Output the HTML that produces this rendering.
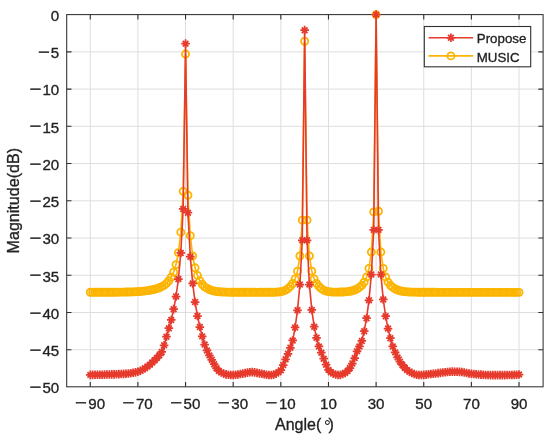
<!DOCTYPE html>
<html><head><meta charset="utf-8"><title>Spectrum</title>
<style>
html,body{margin:0;padding:0;background:#fff;}
svg{display:block;}
text{font-family:"Liberation Sans",sans-serif;fill:#222;}
</style></head><body>
<svg width="550" height="441" viewBox="0 0 550 441">
<rect width="550" height="441" fill="#fff"/>
<path d="M90.27 14.6V386.8M137.91 14.6V386.8M185.55 14.6V386.8M233.19 14.6V386.8M280.83 14.6V386.8M328.47 14.6V386.8M376.11 14.6V386.8M423.75 14.6V386.8M471.39 14.6V386.8M519.03 14.6V386.8M66.7 349.76H543.1M66.7 312.52H543.1M66.7 275.28H543.1M66.7 238.04H543.1M66.7 200.80H543.1M66.7 163.56H543.1M66.7 126.32H543.1M66.7 89.08H543.1M66.7 51.84H543.1" stroke="#dedede" stroke-width="1" fill="none"/>
<path d="M90.27 386.8v-4.8M90.27 14.6v4.8M137.91 386.8v-4.8M137.91 14.6v4.8M185.55 386.8v-4.8M185.55 14.6v4.8M233.19 386.8v-4.8M233.19 14.6v4.8M280.83 386.8v-4.8M280.83 14.6v4.8M328.47 386.8v-4.8M328.47 14.6v4.8M376.11 386.8v-4.8M376.11 14.6v4.8M423.75 386.8v-4.8M423.75 14.6v4.8M471.39 386.8v-4.8M471.39 14.6v4.8M519.03 386.8v-4.8M519.03 14.6v4.8M66.7 349.76h4.8M543.1 349.76h-4.8M66.7 312.52h4.8M543.1 312.52h-4.8M66.7 275.28h4.8M543.1 275.28h-4.8M66.7 238.04h4.8M543.1 238.04h-4.8M66.7 200.80h4.8M543.1 200.80h-4.8M66.7 163.56h4.8M543.1 163.56h-4.8M66.7 126.32h4.8M543.1 126.32h-4.8M66.7 89.08h4.8M543.1 89.08h-4.8M66.7 51.84h4.8M543.1 51.84h-4.8" stroke="#303030" stroke-width="1.1" fill="none"/>
<rect x="66.7" y="14.6" width="476.40" height="372.20" fill="none" stroke="#303030" stroke-width="1.05"/>
<polyline points="90.27,292.32 92.65,292.31 95.03,292.31 97.42,292.30 99.80,292.30 102.18,292.29 104.56,292.28 106.94,292.28 109.33,292.26 111.71,292.25 114.09,292.23 116.47,292.21 118.85,292.19 121.24,292.16 123.62,292.12 126.00,292.07 128.38,292.01 130.76,291.94 133.15,291.85 135.53,291.74 137.91,291.60 140.29,291.43 142.67,291.22 145.06,290.96 147.44,290.65 149.82,290.27 152.20,289.81 154.58,289.26 156.97,288.58 159.35,287.73 161.73,286.68 164.11,285.33 166.49,283.35 168.88,280.76 171.26,277.21 173.64,272.16 176.02,264.59 178.40,252.63 180.79,232.17 183.17,191.33 185.55,54.07 187.93,195.24 190.31,235.72 192.70,255.92 195.08,267.79 197.46,275.40 199.84,280.60 202.22,284.27 204.61,286.89 206.99,288.08 209.37,289.48 211.75,290.43 214.13,291.06 216.52,291.47 218.90,291.75 221.28,291.93 223.66,292.05 226.04,292.13 228.43,292.19 230.81,292.23 233.19,292.26 235.57,292.28 237.95,292.29 240.34,292.30 242.72,292.31 245.10,292.31 247.48,292.32 249.86,292.32 252.25,292.32 254.63,292.32 257.01,292.33 259.39,292.32 261.77,292.32 264.16,292.32 266.54,292.31 268.92,292.30 271.30,292.28 273.68,292.24 276.07,292.16 278.45,292.01 280.83,291.71 283.21,291.15 285.59,290.16 287.98,288.60 290.36,286.44 292.74,283.45 295.12,278.96 297.50,271.22 299.89,255.99 302.27,220.19 304.65,41.26 307.03,220.19 309.41,255.99 311.80,271.22 314.18,278.95 316.56,283.44 318.94,286.42 321.32,288.59 323.71,290.13 326.09,291.12 328.47,291.67 330.85,291.95 333.23,292.08 335.62,292.12 338.00,292.12 340.38,292.07 342.76,291.98 345.14,291.84 347.53,291.61 349.91,291.27 352.29,290.77 354.67,290.03 357.05,288.96 359.44,287.45 361.82,285.28 364.20,282.08 366.58,277.05 368.96,268.45 371.35,252.05 373.73,211.97 376.11,14.60 378.49,211.23 380.87,252.05 383.26,268.45 385.64,277.05 388.02,282.08 390.40,285.28 392.78,287.45 395.17,288.96 397.55,290.03 399.93,290.77 402.31,291.28 404.69,291.62 407.08,291.85 409.46,292.00 411.84,292.10 414.22,292.17 416.60,292.22 418.99,292.25 421.37,292.27 423.75,292.29 426.13,292.30 428.51,292.31 430.90,292.32 433.28,292.32 435.66,292.32 438.04,292.33 440.42,292.33 442.81,292.33 445.19,292.33 447.57,292.33 449.95,292.33 452.33,292.33 454.72,292.33 457.10,292.33 459.48,292.33 461.86,292.33 464.24,292.33 466.63,292.33 469.01,292.34 471.39,292.34 473.77,292.34 476.15,292.34 478.54,292.34 480.92,292.34 483.30,292.34 485.68,292.34 488.06,292.34 490.45,292.34 492.83,292.34 495.21,292.34 497.59,292.34 499.97,292.34 502.36,292.34 504.74,292.34 507.12,292.34 509.50,292.34 511.88,292.34 514.27,292.34 516.65,292.34 519.03,292.34" fill="none" stroke="#fbb400" stroke-width="1.6" stroke-linejoin="round"/>
<g fill="none" stroke="#fbb400" stroke-width="1.8"><circle cx="90.27" cy="292.32" r="3.55"/><circle cx="92.65" cy="292.31" r="3.55"/><circle cx="95.03" cy="292.31" r="3.55"/><circle cx="97.42" cy="292.30" r="3.55"/><circle cx="99.80" cy="292.30" r="3.55"/><circle cx="102.18" cy="292.29" r="3.55"/><circle cx="104.56" cy="292.28" r="3.55"/><circle cx="106.94" cy="292.28" r="3.55"/><circle cx="109.33" cy="292.26" r="3.55"/><circle cx="111.71" cy="292.25" r="3.55"/><circle cx="114.09" cy="292.23" r="3.55"/><circle cx="116.47" cy="292.21" r="3.55"/><circle cx="118.85" cy="292.19" r="3.55"/><circle cx="121.24" cy="292.16" r="3.55"/><circle cx="123.62" cy="292.12" r="3.55"/><circle cx="126.00" cy="292.07" r="3.55"/><circle cx="128.38" cy="292.01" r="3.55"/><circle cx="130.76" cy="291.94" r="3.55"/><circle cx="133.15" cy="291.85" r="3.55"/><circle cx="135.53" cy="291.74" r="3.55"/><circle cx="137.91" cy="291.60" r="3.55"/><circle cx="140.29" cy="291.43" r="3.55"/><circle cx="142.67" cy="291.22" r="3.55"/><circle cx="145.06" cy="290.96" r="3.55"/><circle cx="147.44" cy="290.65" r="3.55"/><circle cx="149.82" cy="290.27" r="3.55"/><circle cx="152.20" cy="289.81" r="3.55"/><circle cx="154.58" cy="289.26" r="3.55"/><circle cx="156.97" cy="288.58" r="3.55"/><circle cx="159.35" cy="287.73" r="3.55"/><circle cx="161.73" cy="286.68" r="3.55"/><circle cx="164.11" cy="285.33" r="3.55"/><circle cx="166.49" cy="283.35" r="3.55"/><circle cx="168.88" cy="280.76" r="3.55"/><circle cx="171.26" cy="277.21" r="3.55"/><circle cx="173.64" cy="272.16" r="3.55"/><circle cx="176.02" cy="264.59" r="3.55"/><circle cx="178.40" cy="252.63" r="3.55"/><circle cx="180.79" cy="232.17" r="3.55"/><circle cx="183.17" cy="191.33" r="3.55"/><circle cx="185.55" cy="54.07" r="3.55"/><circle cx="187.93" cy="195.24" r="3.55"/><circle cx="190.31" cy="235.72" r="3.55"/><circle cx="192.70" cy="255.92" r="3.55"/><circle cx="195.08" cy="267.79" r="3.55"/><circle cx="197.46" cy="275.40" r="3.55"/><circle cx="199.84" cy="280.60" r="3.55"/><circle cx="202.22" cy="284.27" r="3.55"/><circle cx="204.61" cy="286.89" r="3.55"/><circle cx="206.99" cy="288.08" r="3.55"/><circle cx="209.37" cy="289.48" r="3.55"/><circle cx="211.75" cy="290.43" r="3.55"/><circle cx="214.13" cy="291.06" r="3.55"/><circle cx="216.52" cy="291.47" r="3.55"/><circle cx="218.90" cy="291.75" r="3.55"/><circle cx="221.28" cy="291.93" r="3.55"/><circle cx="223.66" cy="292.05" r="3.55"/><circle cx="226.04" cy="292.13" r="3.55"/><circle cx="228.43" cy="292.19" r="3.55"/><circle cx="230.81" cy="292.23" r="3.55"/><circle cx="233.19" cy="292.26" r="3.55"/><circle cx="235.57" cy="292.28" r="3.55"/><circle cx="237.95" cy="292.29" r="3.55"/><circle cx="240.34" cy="292.30" r="3.55"/><circle cx="242.72" cy="292.31" r="3.55"/><circle cx="245.10" cy="292.31" r="3.55"/><circle cx="247.48" cy="292.32" r="3.55"/><circle cx="249.86" cy="292.32" r="3.55"/><circle cx="252.25" cy="292.32" r="3.55"/><circle cx="254.63" cy="292.32" r="3.55"/><circle cx="257.01" cy="292.33" r="3.55"/><circle cx="259.39" cy="292.32" r="3.55"/><circle cx="261.77" cy="292.32" r="3.55"/><circle cx="264.16" cy="292.32" r="3.55"/><circle cx="266.54" cy="292.31" r="3.55"/><circle cx="268.92" cy="292.30" r="3.55"/><circle cx="271.30" cy="292.28" r="3.55"/><circle cx="273.68" cy="292.24" r="3.55"/><circle cx="276.07" cy="292.16" r="3.55"/><circle cx="278.45" cy="292.01" r="3.55"/><circle cx="280.83" cy="291.71" r="3.55"/><circle cx="283.21" cy="291.15" r="3.55"/><circle cx="285.59" cy="290.16" r="3.55"/><circle cx="287.98" cy="288.60" r="3.55"/><circle cx="290.36" cy="286.44" r="3.55"/><circle cx="292.74" cy="283.45" r="3.55"/><circle cx="295.12" cy="278.96" r="3.55"/><circle cx="297.50" cy="271.22" r="3.55"/><circle cx="299.89" cy="255.99" r="3.55"/><circle cx="302.27" cy="220.19" r="3.55"/><circle cx="304.65" cy="41.26" r="3.55"/><circle cx="307.03" cy="220.19" r="3.55"/><circle cx="309.41" cy="255.99" r="3.55"/><circle cx="311.80" cy="271.22" r="3.55"/><circle cx="314.18" cy="278.95" r="3.55"/><circle cx="316.56" cy="283.44" r="3.55"/><circle cx="318.94" cy="286.42" r="3.55"/><circle cx="321.32" cy="288.59" r="3.55"/><circle cx="323.71" cy="290.13" r="3.55"/><circle cx="326.09" cy="291.12" r="3.55"/><circle cx="328.47" cy="291.67" r="3.55"/><circle cx="330.85" cy="291.95" r="3.55"/><circle cx="333.23" cy="292.08" r="3.55"/><circle cx="335.62" cy="292.12" r="3.55"/><circle cx="338.00" cy="292.12" r="3.55"/><circle cx="340.38" cy="292.07" r="3.55"/><circle cx="342.76" cy="291.98" r="3.55"/><circle cx="345.14" cy="291.84" r="3.55"/><circle cx="347.53" cy="291.61" r="3.55"/><circle cx="349.91" cy="291.27" r="3.55"/><circle cx="352.29" cy="290.77" r="3.55"/><circle cx="354.67" cy="290.03" r="3.55"/><circle cx="357.05" cy="288.96" r="3.55"/><circle cx="359.44" cy="287.45" r="3.55"/><circle cx="361.82" cy="285.28" r="3.55"/><circle cx="364.20" cy="282.08" r="3.55"/><circle cx="366.58" cy="277.05" r="3.55"/><circle cx="368.96" cy="268.45" r="3.55"/><circle cx="371.35" cy="252.05" r="3.55"/><circle cx="373.73" cy="211.97" r="3.55"/><circle cx="376.11" cy="14.60" r="3.55"/><circle cx="378.49" cy="211.23" r="3.55"/><circle cx="380.87" cy="252.05" r="3.55"/><circle cx="383.26" cy="268.45" r="3.55"/><circle cx="385.64" cy="277.05" r="3.55"/><circle cx="388.02" cy="282.08" r="3.55"/><circle cx="390.40" cy="285.28" r="3.55"/><circle cx="392.78" cy="287.45" r="3.55"/><circle cx="395.17" cy="288.96" r="3.55"/><circle cx="397.55" cy="290.03" r="3.55"/><circle cx="399.93" cy="290.77" r="3.55"/><circle cx="402.31" cy="291.28" r="3.55"/><circle cx="404.69" cy="291.62" r="3.55"/><circle cx="407.08" cy="291.85" r="3.55"/><circle cx="409.46" cy="292.00" r="3.55"/><circle cx="411.84" cy="292.10" r="3.55"/><circle cx="414.22" cy="292.17" r="3.55"/><circle cx="416.60" cy="292.22" r="3.55"/><circle cx="418.99" cy="292.25" r="3.55"/><circle cx="421.37" cy="292.27" r="3.55"/><circle cx="423.75" cy="292.29" r="3.55"/><circle cx="426.13" cy="292.30" r="3.55"/><circle cx="428.51" cy="292.31" r="3.55"/><circle cx="430.90" cy="292.32" r="3.55"/><circle cx="433.28" cy="292.32" r="3.55"/><circle cx="435.66" cy="292.32" r="3.55"/><circle cx="438.04" cy="292.33" r="3.55"/><circle cx="440.42" cy="292.33" r="3.55"/><circle cx="442.81" cy="292.33" r="3.55"/><circle cx="445.19" cy="292.33" r="3.55"/><circle cx="447.57" cy="292.33" r="3.55"/><circle cx="449.95" cy="292.33" r="3.55"/><circle cx="452.33" cy="292.33" r="3.55"/><circle cx="454.72" cy="292.33" r="3.55"/><circle cx="457.10" cy="292.33" r="3.55"/><circle cx="459.48" cy="292.33" r="3.55"/><circle cx="461.86" cy="292.33" r="3.55"/><circle cx="464.24" cy="292.33" r="3.55"/><circle cx="466.63" cy="292.33" r="3.55"/><circle cx="469.01" cy="292.34" r="3.55"/><circle cx="471.39" cy="292.34" r="3.55"/><circle cx="473.77" cy="292.34" r="3.55"/><circle cx="476.15" cy="292.34" r="3.55"/><circle cx="478.54" cy="292.34" r="3.55"/><circle cx="480.92" cy="292.34" r="3.55"/><circle cx="483.30" cy="292.34" r="3.55"/><circle cx="485.68" cy="292.34" r="3.55"/><circle cx="488.06" cy="292.34" r="3.55"/><circle cx="490.45" cy="292.34" r="3.55"/><circle cx="492.83" cy="292.34" r="3.55"/><circle cx="495.21" cy="292.34" r="3.55"/><circle cx="497.59" cy="292.34" r="3.55"/><circle cx="499.97" cy="292.34" r="3.55"/><circle cx="502.36" cy="292.34" r="3.55"/><circle cx="504.74" cy="292.34" r="3.55"/><circle cx="507.12" cy="292.34" r="3.55"/><circle cx="509.50" cy="292.34" r="3.55"/><circle cx="511.88" cy="292.34" r="3.55"/><circle cx="514.27" cy="292.34" r="3.55"/><circle cx="516.65" cy="292.34" r="3.55"/><circle cx="519.03" cy="292.34" r="3.55"/></g>
<polyline points="90.27,374.86 92.65,374.85 95.03,374.82 97.42,374.78 99.80,374.74 102.18,374.68 104.56,374.62 106.94,374.56 109.33,374.49 111.71,374.41 114.09,374.34 116.47,374.26 118.85,374.16 121.24,374.04 123.62,373.91 126.00,373.74 128.38,373.51 130.76,373.18 133.15,372.80 135.53,372.34 137.91,371.73 140.29,370.83 142.67,369.64 145.06,368.25 147.44,366.56 149.82,364.66 152.20,362.59 154.58,360.29 156.97,357.87 159.35,355.40 161.73,351.99 164.11,345.34 166.49,336.73 168.88,328.16 171.26,319.97 173.64,309.17 176.02,296.51 178.40,279.00 180.79,252.94 183.17,208.99 185.55,43.65 187.93,212.72 190.31,256.66 192.70,283.47 195.08,302.09 197.46,316.02 199.84,327.04 202.22,336.35 204.61,344.55 206.99,350.45 209.37,355.40 211.75,359.81 214.13,364.24 216.52,368.28 218.90,370.99 221.28,372.52 223.66,373.65 226.04,374.34 228.43,374.77 230.81,375.04 233.19,375.05 235.57,374.82 237.95,374.44 240.34,374.01 242.72,373.59 245.10,373.12 247.48,372.58 249.86,372.18 252.25,372.13 254.63,372.42 257.01,372.89 259.39,373.39 261.77,373.79 264.16,374.26 266.54,374.70 268.92,375.01 271.30,375.06 273.68,374.61 276.07,373.62 278.45,372.16 280.83,370.24 283.21,365.01 285.59,359.27 287.98,353.75 290.36,347.79 292.74,340.45 295.12,327.42 297.50,310.29 299.89,284.59 302.27,240.27 304.65,30.17 307.03,240.27 309.41,284.59 311.80,309.91 314.18,326.67 316.56,337.84 318.94,346.48 321.32,352.74 323.71,358.70 326.09,364.66 328.47,369.87 330.85,372.21 333.23,373.59 335.62,374.53 338.00,375.07 340.38,374.84 342.76,374.07 345.14,372.99 347.53,371.11 349.91,368.04 352.29,363.55 354.67,358.05 357.05,351.25 359.44,346.41 361.82,340.97 364.20,331.21 366.58,318.18 368.96,300.31 371.35,274.54 373.73,229.85 376.11,14.60 378.49,229.85 380.87,274.54 383.26,299.49 385.64,316.24 388.02,328.53 390.40,338.22 392.78,346.48 395.17,352.37 397.55,357.40 399.93,361.60 402.31,364.96 404.69,367.78 407.08,370.10 409.46,371.73 411.84,372.91 414.22,373.95 416.60,374.72 418.99,375.07 421.37,375.04 423.75,374.87 426.13,374.61 428.51,374.31 430.90,374.01 433.28,373.74 435.66,373.46 438.04,373.16 440.42,372.86 442.81,372.57 445.19,372.28 447.57,371.95 449.95,371.70 452.33,371.66 454.72,371.70 457.10,371.76 459.48,371.85 461.86,372.03 464.24,372.44 466.63,372.96 469.01,373.47 471.39,373.82 473.77,374.04 476.15,374.25 478.54,374.45 480.92,374.63 483.30,374.80 485.68,374.93 488.06,375.04 490.45,375.12 492.83,375.15 495.21,375.16 497.59,375.15 499.97,375.15 502.36,375.13 504.74,375.10 507.12,375.06 509.50,375.00 511.88,374.93 514.27,374.83 516.65,374.71 519.03,374.56" fill="none" stroke="#e63a2c" stroke-width="1.6" stroke-linejoin="round"/>
<path fill="none" stroke="#e63a2c" stroke-width="1.75" d="M85.97 374.86H94.57M90.27 370.56V379.16M87.42 372.01L93.12 377.71M87.42 377.71L93.12 372.01M88.35 374.85H96.95M92.65 370.55V379.15M89.80 372.00L95.50 377.70M89.80 377.70L95.50 372.00M90.73 374.82H99.33M95.03 370.52V379.12M92.18 371.97L97.88 377.67M92.18 377.67L97.88 371.97M93.12 374.78H101.72M97.42 370.48V379.08M94.57 371.93L100.27 377.63M94.57 377.63L100.27 371.93M95.50 374.74H104.10M99.80 370.44V379.04M96.95 371.89L102.65 377.59M96.95 377.59L102.65 371.89M97.88 374.68H106.48M102.18 370.38V378.98M99.33 371.83L105.03 377.53M99.33 377.53L105.03 371.83M100.26 374.62H108.86M104.56 370.32V378.92M101.71 371.77L107.41 377.47M101.71 377.47L107.41 371.77M102.64 374.56H111.24M106.94 370.26V378.86M104.09 371.71L109.79 377.41M104.09 377.41L109.79 371.71M105.03 374.49H113.63M109.33 370.19V378.79M106.48 371.64L112.18 377.34M106.48 377.34L112.18 371.64M107.41 374.41H116.01M111.71 370.11V378.71M108.86 371.56L114.56 377.26M108.86 377.26L114.56 371.56M109.79 374.34H118.39M114.09 370.04V378.64M111.24 371.49L116.94 377.19M111.24 377.19L116.94 371.49M112.17 374.26H120.77M116.47 369.96V378.56M113.62 371.41L119.32 377.11M113.62 377.11L119.32 371.41M114.55 374.16H123.15M118.85 369.86V378.46M116.00 371.31L121.70 377.01M116.00 377.01L121.70 371.31M116.94 374.04H125.54M121.24 369.74V378.34M118.39 371.19L124.09 376.89M118.39 376.89L124.09 371.19M119.32 373.91H127.92M123.62 369.61V378.21M120.77 371.06L126.47 376.76M120.77 376.76L126.47 371.06M121.70 373.74H130.30M126.00 369.44V378.04M123.15 370.89L128.85 376.59M123.15 376.59L128.85 370.89M124.08 373.51H132.68M128.38 369.21V377.81M125.53 370.66L131.23 376.36M125.53 376.36L131.23 370.66M126.46 373.18H135.06M130.76 368.88V377.48M127.91 370.33L133.61 376.03M127.91 376.03L133.61 370.33M128.85 372.80H137.45M133.15 368.50V377.10M130.30 369.95L136.00 375.65M130.30 375.65L136.00 369.95M131.23 372.34H139.83M135.53 368.04V376.64M132.68 369.49L138.38 375.19M132.68 375.19L138.38 369.49M133.61 371.73H142.21M137.91 367.43V376.03M135.06 368.88L140.76 374.58M135.06 374.58L140.76 368.88M135.99 370.83H144.59M140.29 366.53V375.13M137.44 367.98L143.14 373.68M137.44 373.68L143.14 367.98M138.37 369.64H146.97M142.67 365.34V373.94M139.82 366.79L145.52 372.49M139.82 372.49L145.52 366.79M140.76 368.25H149.36M145.06 363.95V372.55M142.21 365.40L147.91 371.10M142.21 371.10L147.91 365.40M143.14 366.56H151.74M147.44 362.26V370.86M144.59 363.71L150.29 369.41M144.59 369.41L150.29 363.71M145.52 364.66H154.12M149.82 360.36V368.96M146.97 361.81L152.67 367.51M146.97 367.51L152.67 361.81M147.90 362.59H156.50M152.20 358.29V366.89M149.35 359.74L155.05 365.44M149.35 365.44L155.05 359.74M150.28 360.29H158.88M154.58 355.99V364.59M151.73 357.44L157.43 363.14M151.73 363.14L157.43 357.44M152.67 357.87H161.27M156.97 353.57V362.17M154.12 355.02L159.82 360.72M154.12 360.72L159.82 355.02M155.05 355.40H163.65M159.35 351.10V359.70M156.50 352.55L162.20 358.25M156.50 358.25L162.20 352.55M157.43 351.99H166.03M161.73 347.69V356.29M158.88 349.14L164.58 354.84M158.88 354.84L164.58 349.14M159.81 345.34H168.41M164.11 341.04V349.64M161.26 342.49L166.96 348.19M161.26 348.19L166.96 342.49M162.19 336.73H170.79M166.49 332.43V341.03M163.64 333.88L169.34 339.58M163.64 339.58L169.34 333.88M164.58 328.16H173.18M168.88 323.86V332.46M166.03 325.31L171.73 331.01M166.03 331.01L171.73 325.31M166.96 319.97H175.56M171.26 315.67V324.27M168.41 317.12L174.11 322.82M168.41 322.82L174.11 317.12M169.34 309.17H177.94M173.64 304.87V313.47M170.79 306.32L176.49 312.02M170.79 312.02L176.49 306.32M171.72 296.51H180.32M176.02 292.21V300.81M173.17 293.66L178.87 299.36M173.17 299.36L178.87 293.66M174.10 279.00H182.70M178.40 274.70V283.30M175.55 276.15L181.25 281.85M175.55 281.85L181.25 276.15M176.49 252.94H185.09M180.79 248.64V257.24M177.94 250.09L183.64 255.79M177.94 255.79L183.64 250.09M178.87 208.99H187.47M183.17 204.69V213.29M180.32 206.14L186.02 211.84M180.32 211.84L186.02 206.14M181.25 43.65H189.85M185.55 39.35V47.95M182.70 40.80L188.40 46.50M182.70 46.50L188.40 40.80M183.63 212.72H192.23M187.93 208.42V217.02M185.08 209.87L190.78 215.57M185.08 215.57L190.78 209.87M186.01 256.66H194.61M190.31 252.36V260.96M187.46 253.81L193.16 259.51M187.46 259.51L193.16 253.81M188.40 283.47H197.00M192.70 279.17V287.77M189.85 280.62L195.55 286.32M189.85 286.32L195.55 280.62M190.78 302.09H199.38M195.08 297.79V306.39M192.23 299.24L197.93 304.94M192.23 304.94L197.93 299.24M193.16 316.02H201.76M197.46 311.72V320.32M194.61 313.17L200.31 318.87M194.61 318.87L200.31 313.17M195.54 327.04H204.14M199.84 322.74V331.34M196.99 324.19L202.69 329.89M196.99 329.89L202.69 324.19M197.92 336.35H206.52M202.22 332.05V340.65M199.37 333.50L205.07 339.20M199.37 339.20L205.07 333.50M200.31 344.55H208.91M204.61 340.25V348.85M201.76 341.70L207.46 347.40M201.76 347.40L207.46 341.70M202.69 350.45H211.29M206.99 346.15V354.75M204.14 347.60L209.84 353.30M204.14 353.30L209.84 347.60M205.07 355.40H213.67M209.37 351.10V359.70M206.52 352.55L212.22 358.25M206.52 358.25L212.22 352.55M207.45 359.81H216.05M211.75 355.51V364.11M208.90 356.96L214.60 362.66M208.90 362.66L214.60 356.96M209.83 364.24H218.43M214.13 359.94V368.54M211.28 361.39L216.98 367.09M211.28 367.09L216.98 361.39M212.22 368.28H220.82M216.52 363.98V372.58M213.67 365.43L219.37 371.13M213.67 371.13L219.37 365.43M214.60 370.99H223.20M218.90 366.69V375.29M216.05 368.14L221.75 373.84M216.05 373.84L221.75 368.14M216.98 372.52H225.58M221.28 368.22V376.82M218.43 369.67L224.13 375.37M218.43 375.37L224.13 369.67M219.36 373.65H227.96M223.66 369.35V377.95M220.81 370.80L226.51 376.50M220.81 376.50L226.51 370.80M221.74 374.34H230.34M226.04 370.04V378.64M223.19 371.49L228.89 377.19M223.19 377.19L228.89 371.49M224.13 374.77H232.73M228.43 370.47V379.07M225.58 371.92L231.28 377.62M225.58 377.62L231.28 371.92M226.51 375.04H235.11M230.81 370.74V379.34M227.96 372.19L233.66 377.89M227.96 377.89L233.66 372.19M228.89 375.05H237.49M233.19 370.75V379.35M230.34 372.20L236.04 377.90M230.34 377.90L236.04 372.20M231.27 374.82H239.87M235.57 370.52V379.12M232.72 371.97L238.42 377.67M232.72 377.67L238.42 371.97M233.65 374.44H242.25M237.95 370.14V378.74M235.10 371.59L240.80 377.29M235.10 377.29L240.80 371.59M236.04 374.01H244.64M240.34 369.71V378.31M237.49 371.16L243.19 376.86M237.49 376.86L243.19 371.16M238.42 373.59H247.02M242.72 369.29V377.89M239.87 370.74L245.57 376.44M239.87 376.44L245.57 370.74M240.80 373.12H249.40M245.10 368.82V377.42M242.25 370.27L247.95 375.97M242.25 375.97L247.95 370.27M243.18 372.58H251.78M247.48 368.28V376.88M244.63 369.73L250.33 375.43M244.63 375.43L250.33 369.73M245.56 372.18H254.16M249.86 367.88V376.48M247.01 369.33L252.71 375.03M247.01 375.03L252.71 369.33M247.95 372.13H256.55M252.25 367.83V376.43M249.40 369.28L255.10 374.98M249.40 374.98L255.10 369.28M250.33 372.42H258.93M254.63 368.12V376.72M251.78 369.57L257.48 375.27M251.78 375.27L257.48 369.57M252.71 372.89H261.31M257.01 368.59V377.19M254.16 370.04L259.86 375.74M254.16 375.74L259.86 370.04M255.09 373.39H263.69M259.39 369.09V377.69M256.54 370.54L262.24 376.24M256.54 376.24L262.24 370.54M257.47 373.79H266.07M261.77 369.49V378.09M258.92 370.94L264.62 376.64M258.92 376.64L264.62 370.94M259.86 374.26H268.46M264.16 369.96V378.56M261.31 371.41L267.01 377.11M261.31 377.11L267.01 371.41M262.24 374.70H270.84M266.54 370.40V379.00M263.69 371.85L269.39 377.55M263.69 377.55L269.39 371.85M264.62 375.01H273.22M268.92 370.71V379.31M266.07 372.16L271.77 377.86M266.07 377.86L271.77 372.16M267.00 375.06H275.60M271.30 370.76V379.36M268.45 372.21L274.15 377.91M268.45 377.91L274.15 372.21M269.38 374.61H277.98M273.68 370.31V378.91M270.83 371.76L276.53 377.46M270.83 377.46L276.53 371.76M271.77 373.62H280.37M276.07 369.32V377.92M273.22 370.77L278.92 376.47M273.22 376.47L278.92 370.77M274.15 372.16H282.75M278.45 367.86V376.46M275.60 369.31L281.30 375.01M275.60 375.01L281.30 369.31M276.53 370.24H285.13M280.83 365.94V374.54M277.98 367.39L283.68 373.09M277.98 373.09L283.68 367.39M278.91 365.01H287.51M283.21 360.71V369.31M280.36 362.16L286.06 367.86M280.36 367.86L286.06 362.16M281.29 359.27H289.89M285.59 354.97V363.57M282.74 356.42L288.44 362.12M282.74 362.12L288.44 356.42M283.68 353.75H292.28M287.98 349.45V358.05M285.13 350.90L290.83 356.60M285.13 356.60L290.83 350.90M286.06 347.79H294.66M290.36 343.49V352.09M287.51 344.94L293.21 350.64M287.51 350.64L293.21 344.94M288.44 340.45H297.04M292.74 336.15V344.75M289.89 337.60L295.59 343.30M289.89 343.30L295.59 337.60M290.82 327.42H299.42M295.12 323.12V331.72M292.27 324.57L297.97 330.27M292.27 330.27L297.97 324.57M293.20 310.29H301.80M297.50 305.99V314.59M294.65 307.44L300.35 313.14M294.65 313.14L300.35 307.44M295.59 284.59H304.19M299.89 280.29V288.89M297.04 281.74L302.74 287.44M297.04 287.44L302.74 281.74M297.97 240.27H306.57M302.27 235.97V244.57M299.42 237.42L305.12 243.12M299.42 243.12L305.12 237.42M300.35 30.17H308.95M304.65 25.87V34.47M301.80 27.32L307.50 33.02M301.80 33.02L307.50 27.32M302.73 240.27H311.33M307.03 235.97V244.57M304.18 237.42L309.88 243.12M304.18 243.12L309.88 237.42M305.11 284.59H313.71M309.41 280.29V288.89M306.56 281.74L312.26 287.44M306.56 287.44L312.26 281.74M307.50 309.91H316.10M311.80 305.61V314.21M308.95 307.06L314.65 312.76M308.95 312.76L314.65 307.06M309.88 326.67H318.48M314.18 322.37V330.97M311.33 323.82L317.03 329.52M311.33 329.52L317.03 323.82M312.26 337.84H320.86M316.56 333.54V342.14M313.71 334.99L319.41 340.69M313.71 340.69L319.41 334.99M314.64 346.48H323.24M318.94 342.18V350.78M316.09 343.63L321.79 349.33M316.09 349.33L321.79 343.63M317.02 352.74H325.62M321.32 348.44V357.04M318.47 349.89L324.17 355.59M318.47 355.59L324.17 349.89M319.41 358.70H328.01M323.71 354.40V363.00M320.86 355.85L326.56 361.55M320.86 361.55L326.56 355.85M321.79 364.66H330.39M326.09 360.36V368.96M323.24 361.81L328.94 367.51M323.24 367.51L328.94 361.81M324.17 369.87H332.77M328.47 365.57V374.17M325.62 367.02L331.32 372.72M325.62 372.72L331.32 367.02M326.55 372.21H335.15M330.85 367.91V376.51M328.00 369.36L333.70 375.06M328.00 375.06L333.70 369.36M328.93 373.59H337.53M333.23 369.29V377.89M330.38 370.74L336.08 376.44M330.38 376.44L336.08 370.74M331.32 374.53H339.92M335.62 370.23V378.83M332.77 371.68L338.47 377.38M332.77 377.38L338.47 371.68M333.70 375.07H342.30M338.00 370.77V379.37M335.15 372.22L340.85 377.92M335.15 377.92L340.85 372.22M336.08 374.84H344.68M340.38 370.54V379.14M337.53 371.99L343.23 377.69M337.53 377.69L343.23 371.99M338.46 374.07H347.06M342.76 369.77V378.37M339.91 371.22L345.61 376.92M339.91 376.92L345.61 371.22M340.84 372.99H349.44M345.14 368.69V377.29M342.29 370.14L347.99 375.84M342.29 375.84L347.99 370.14M343.23 371.11H351.83M347.53 366.81V375.41M344.68 368.26L350.38 373.96M344.68 373.96L350.38 368.26M345.61 368.04H354.21M349.91 363.74V372.34M347.06 365.19L352.76 370.89M347.06 370.89L352.76 365.19M347.99 363.55H356.59M352.29 359.25V367.85M349.44 360.70L355.14 366.40M349.44 366.40L355.14 360.70M350.37 358.05H358.97M354.67 353.75V362.35M351.82 355.20L357.52 360.90M351.82 360.90L357.52 355.20M352.75 351.25H361.35M357.05 346.95V355.55M354.20 348.40L359.90 354.10M354.20 354.10L359.90 348.40M355.14 346.41H363.74M359.44 342.11V350.71M356.59 343.56L362.29 349.26M356.59 349.26L362.29 343.56M357.52 340.97H366.12M361.82 336.67V345.27M358.97 338.12L364.67 343.82M358.97 343.82L364.67 338.12M359.90 331.21H368.50M364.20 326.91V335.51M361.35 328.36L367.05 334.06M361.35 334.06L367.05 328.36M362.28 318.18H370.88M366.58 313.88V322.48M363.73 315.33L369.43 321.03M363.73 321.03L369.43 315.33M364.66 300.31H373.26M368.96 296.01V304.61M366.11 297.46L371.81 303.16M366.11 303.16L371.81 297.46M367.05 274.54H375.65M371.35 270.24V278.84M368.50 271.69L374.20 277.39M368.50 277.39L374.20 271.69M369.43 229.85H378.03M373.73 225.55V234.15M370.88 227.00L376.58 232.70M370.88 232.70L376.58 227.00M371.81 14.60H380.41M376.11 10.30V18.90M373.26 11.75L378.96 17.45M373.26 17.45L378.96 11.75M374.19 229.85H382.79M378.49 225.55V234.15M375.64 227.00L381.34 232.70M375.64 232.70L381.34 227.00M376.57 274.54H385.17M380.87 270.24V278.84M378.02 271.69L383.72 277.39M378.02 277.39L383.72 271.69M378.96 299.49H387.56M383.26 295.19V303.79M380.41 296.64L386.11 302.34M380.41 302.34L386.11 296.64M381.34 316.24H389.94M385.64 311.94V320.54M382.79 313.39L388.49 319.09M382.79 319.09L388.49 313.39M383.72 328.53H392.32M388.02 324.23V332.83M385.17 325.68L390.87 331.38M385.17 331.38L390.87 325.68M386.10 338.22H394.70M390.40 333.92V342.52M387.55 335.37L393.25 341.07M387.55 341.07L393.25 335.37M388.48 346.48H397.08M392.78 342.18V350.78M389.93 343.63L395.63 349.33M389.93 349.33L395.63 343.63M390.87 352.37H399.47M395.17 348.07V356.67M392.32 349.52L398.02 355.22M392.32 355.22L398.02 349.52M393.25 357.40H401.85M397.55 353.10V361.70M394.70 354.55L400.40 360.25M394.70 360.25L400.40 354.55M395.63 361.60H404.23M399.93 357.30V365.90M397.08 358.75L402.78 364.45M397.08 364.45L402.78 358.75M398.01 364.96H406.61M402.31 360.66V369.26M399.46 362.11L405.16 367.81M399.46 367.81L405.16 362.11M400.39 367.78H408.99M404.69 363.48V372.08M401.84 364.93L407.54 370.63M401.84 370.63L407.54 364.93M402.78 370.10H411.38M407.08 365.80V374.40M404.23 367.25L409.93 372.95M404.23 372.95L409.93 367.25M405.16 371.73H413.76M409.46 367.43V376.03M406.61 368.88L412.31 374.58M406.61 374.58L412.31 368.88M407.54 372.91H416.14M411.84 368.61V377.21M408.99 370.06L414.69 375.76M408.99 375.76L414.69 370.06M409.92 373.95H418.52M414.22 369.65V378.25M411.37 371.10L417.07 376.80M411.37 376.80L417.07 371.10M412.30 374.72H420.90M416.60 370.42V379.02M413.75 371.87L419.45 377.57M413.75 377.57L419.45 371.87M414.69 375.07H423.29M418.99 370.77V379.37M416.14 372.22L421.84 377.92M416.14 377.92L421.84 372.22M417.07 375.04H425.67M421.37 370.74V379.34M418.52 372.19L424.22 377.89M418.52 377.89L424.22 372.19M419.45 374.87H428.05M423.75 370.57V379.17M420.90 372.02L426.60 377.72M420.90 377.72L426.60 372.02M421.83 374.61H430.43M426.13 370.31V378.91M423.28 371.76L428.98 377.46M423.28 377.46L428.98 371.76M424.21 374.31H432.81M428.51 370.01V378.61M425.66 371.46L431.36 377.16M425.66 377.16L431.36 371.46M426.60 374.01H435.20M430.90 369.71V378.31M428.05 371.16L433.75 376.86M428.05 376.86L433.75 371.16M428.98 373.74H437.58M433.28 369.44V378.04M430.43 370.89L436.13 376.59M430.43 376.59L436.13 370.89M431.36 373.46H439.96M435.66 369.16V377.76M432.81 370.61L438.51 376.31M432.81 376.31L438.51 370.61M433.74 373.16H442.34M438.04 368.86V377.46M435.19 370.31L440.89 376.01M435.19 376.01L440.89 370.31M436.12 372.86H444.72M440.42 368.56V377.16M437.57 370.01L443.27 375.71M437.57 375.71L443.27 370.01M438.51 372.57H447.11M442.81 368.27V376.87M439.96 369.72L445.66 375.42M439.96 375.42L445.66 369.72M440.89 372.28H449.49M445.19 367.98V376.58M442.34 369.43L448.04 375.13M442.34 375.13L448.04 369.43M443.27 371.95H451.87M447.57 367.65V376.25M444.72 369.10L450.42 374.80M444.72 374.80L450.42 369.10M445.65 371.70H454.25M449.95 367.40V376.00M447.10 368.85L452.80 374.55M447.10 374.55L452.80 368.85M448.03 371.66H456.63M452.33 367.36V375.96M449.48 368.81L455.18 374.51M449.48 374.51L455.18 368.81M450.42 371.70H459.02M454.72 367.40V376.00M451.87 368.85L457.57 374.55M451.87 374.55L457.57 368.85M452.80 371.76H461.40M457.10 367.46V376.06M454.25 368.91L459.95 374.61M454.25 374.61L459.95 368.91M455.18 371.85H463.78M459.48 367.55V376.15M456.63 369.00L462.33 374.70M456.63 374.70L462.33 369.00M457.56 372.03H466.16M461.86 367.73V376.33M459.01 369.18L464.71 374.88M459.01 374.88L464.71 369.18M459.94 372.44H468.54M464.24 368.14V376.74M461.39 369.59L467.09 375.29M461.39 375.29L467.09 369.59M462.33 372.96H470.93M466.63 368.66V377.26M463.78 370.11L469.48 375.81M463.78 375.81L469.48 370.11M464.71 373.47H473.31M469.01 369.17V377.77M466.16 370.62L471.86 376.32M466.16 376.32L471.86 370.62M467.09 373.82H475.69M471.39 369.52V378.12M468.54 370.97L474.24 376.67M468.54 376.67L474.24 370.97M469.47 374.04H478.07M473.77 369.74V378.34M470.92 371.19L476.62 376.89M470.92 376.89L476.62 371.19M471.85 374.25H480.45M476.15 369.95V378.55M473.30 371.40L479.00 377.10M473.30 377.10L479.00 371.40M474.24 374.45H482.84M478.54 370.15V378.75M475.69 371.60L481.39 377.30M475.69 377.30L481.39 371.60M476.62 374.63H485.22M480.92 370.33V378.93M478.07 371.78L483.77 377.48M478.07 377.48L483.77 371.78M479.00 374.80H487.60M483.30 370.50V379.10M480.45 371.95L486.15 377.65M480.45 377.65L486.15 371.95M481.38 374.93H489.98M485.68 370.63V379.23M482.83 372.08L488.53 377.78M482.83 377.78L488.53 372.08M483.76 375.04H492.36M488.06 370.74V379.34M485.21 372.19L490.91 377.89M485.21 377.89L490.91 372.19M486.15 375.12H494.75M490.45 370.82V379.42M487.60 372.27L493.30 377.97M487.60 377.97L493.30 372.27M488.53 375.15H497.13M492.83 370.85V379.45M489.98 372.30L495.68 378.00M489.98 378.00L495.68 372.30M490.91 375.16H499.51M495.21 370.86V379.46M492.36 372.31L498.06 378.01M492.36 378.01L498.06 372.31M493.29 375.15H501.89M497.59 370.85V379.45M494.74 372.30L500.44 378.00M494.74 378.00L500.44 372.30M495.67 375.15H504.27M499.97 370.85V379.45M497.12 372.30L502.82 378.00M497.12 378.00L502.82 372.30M498.06 375.13H506.66M502.36 370.83V379.43M499.51 372.28L505.21 377.98M499.51 377.98L505.21 372.28M500.44 375.10H509.04M504.74 370.80V379.40M501.89 372.25L507.59 377.95M501.89 377.95L507.59 372.25M502.82 375.06H511.42M507.12 370.76V379.36M504.27 372.21L509.97 377.91M504.27 377.91L509.97 372.21M505.20 375.00H513.80M509.50 370.70V379.30M506.65 372.15L512.35 377.85M506.65 377.85L512.35 372.15M507.58 374.93H516.18M511.88 370.63V379.23M509.03 372.08L514.73 377.78M509.03 377.78L514.73 372.08M509.97 374.83H518.57M514.27 370.53V379.13M511.42 371.98L517.12 377.68M511.42 377.68L517.12 371.98M512.35 374.71H520.95M516.65 370.41V379.01M513.80 371.86L519.50 377.56M513.80 377.56L519.50 371.86M514.73 374.56H523.33M519.03 370.26V378.86M516.18 371.71L521.88 377.41M516.18 377.41L521.88 371.71"/>
<text x="88.32" y="408.6" font-size="15.1" stroke="#222" stroke-width="0.32">90</text><text x="74.97" y="407.90" font-size="15.1" textLength="11.9" lengthAdjust="spacingAndGlyphs" stroke="#222" stroke-width="0.32">−</text><text x="135.96" y="408.6" font-size="15.1" stroke="#222" stroke-width="0.32">70</text><text x="122.61" y="407.90" font-size="15.1" textLength="11.9" lengthAdjust="spacingAndGlyphs" stroke="#222" stroke-width="0.32">−</text><text x="183.60" y="408.6" font-size="15.1" stroke="#222" stroke-width="0.32">50</text><text x="170.25" y="407.90" font-size="15.1" textLength="11.9" lengthAdjust="spacingAndGlyphs" stroke="#222" stroke-width="0.32">−</text><text x="231.24" y="408.6" font-size="15.1" stroke="#222" stroke-width="0.32">30</text><text x="217.89" y="407.90" font-size="15.1" textLength="11.9" lengthAdjust="spacingAndGlyphs" stroke="#222" stroke-width="0.32">−</text><text x="278.88" y="408.6" font-size="15.1" stroke="#222" stroke-width="0.32">10</text><text x="265.53" y="407.90" font-size="15.1" textLength="11.9" lengthAdjust="spacingAndGlyphs" stroke="#222" stroke-width="0.32">−</text><text x="328.47" y="408.6" font-size="15.1" text-anchor="middle" stroke="#222" stroke-width="0.32">10</text><text x="376.11" y="408.6" font-size="15.1" text-anchor="middle" stroke="#222" stroke-width="0.32">30</text><text x="423.75" y="408.6" font-size="15.1" text-anchor="middle" stroke="#222" stroke-width="0.32">50</text><text x="471.39" y="408.6" font-size="15.1" text-anchor="middle" stroke="#222" stroke-width="0.32">70</text><text x="519.03" y="408.6" font-size="15.1" text-anchor="middle" stroke="#222" stroke-width="0.32">90</text>
<text x="59.25" y="393.30" font-size="15.1" text-anchor="end" stroke="#222" stroke-width="0.32">50</text><text x="29.51" y="392.10" font-size="14.8" textLength="11.9" lengthAdjust="spacingAndGlyphs" stroke="#222" stroke-width="0.32">−</text><text x="59.25" y="356.06" font-size="15.1" text-anchor="end" stroke="#222" stroke-width="0.32">45</text><text x="29.51" y="354.86" font-size="14.8" textLength="11.9" lengthAdjust="spacingAndGlyphs" stroke="#222" stroke-width="0.32">−</text><text x="59.25" y="318.82" font-size="15.1" text-anchor="end" stroke="#222" stroke-width="0.32">40</text><text x="29.51" y="317.62" font-size="14.8" textLength="11.9" lengthAdjust="spacingAndGlyphs" stroke="#222" stroke-width="0.32">−</text><text x="59.25" y="281.58" font-size="15.1" text-anchor="end" stroke="#222" stroke-width="0.32">35</text><text x="29.51" y="280.38" font-size="14.8" textLength="11.9" lengthAdjust="spacingAndGlyphs" stroke="#222" stroke-width="0.32">−</text><text x="59.25" y="244.34" font-size="15.1" text-anchor="end" stroke="#222" stroke-width="0.32">30</text><text x="29.51" y="243.14" font-size="14.8" textLength="11.9" lengthAdjust="spacingAndGlyphs" stroke="#222" stroke-width="0.32">−</text><text x="59.25" y="207.10" font-size="15.1" text-anchor="end" stroke="#222" stroke-width="0.32">25</text><text x="29.51" y="205.90" font-size="14.8" textLength="11.9" lengthAdjust="spacingAndGlyphs" stroke="#222" stroke-width="0.32">−</text><text x="59.25" y="169.86" font-size="15.1" text-anchor="end" stroke="#222" stroke-width="0.32">20</text><text x="29.51" y="168.66" font-size="14.8" textLength="11.9" lengthAdjust="spacingAndGlyphs" stroke="#222" stroke-width="0.32">−</text><text x="59.25" y="132.62" font-size="15.1" text-anchor="end" stroke="#222" stroke-width="0.32">15</text><text x="29.51" y="131.42" font-size="14.8" textLength="11.9" lengthAdjust="spacingAndGlyphs" stroke="#222" stroke-width="0.32">−</text><text x="59.25" y="95.38" font-size="15.1" text-anchor="end" stroke="#222" stroke-width="0.32">10</text><text x="29.51" y="94.18" font-size="14.8" textLength="11.9" lengthAdjust="spacingAndGlyphs" stroke="#222" stroke-width="0.32">−</text><text x="59.25" y="58.14" font-size="15.1" text-anchor="end" stroke="#222" stroke-width="0.32">5</text><text x="37.90" y="56.94" font-size="14.8" textLength="11.9" lengthAdjust="spacingAndGlyphs" stroke="#222" stroke-width="0.32">−</text><text x="59.25" y="20.90" font-size="15.1" text-anchor="end" stroke="#222" stroke-width="0.32">0</text>
<text x="275.0" y="429.9" font-size="16" stroke="#222" stroke-width="0.32">Angle(</text><text x="323.9" y="431.7" font-size="17">°</text><text x="328.5" y="429.9" font-size="16.1" stroke="#222" stroke-width="0.32">)</text>
<text transform="translate(19.3 200.7) rotate(-90)" font-size="16.1" text-anchor="middle" stroke="#222" stroke-width="0.32">Magnitude(dB)</text>
<rect x="424.3" y="26.5" width="106.40" height="40.30" fill="#fff" stroke="#303030" stroke-width="1.1"/><path d="M428.6 37.8H473.1" stroke="#e63a2c" stroke-width="1.6"/><path d="M446.60 37.80H455.20M450.90 33.50V42.10M448.05 34.95L453.75 40.65M448.05 40.65L453.75 34.95" stroke="#e63a2c" stroke-width="1.75" fill="none"/><path d="M428.6 55.9H473.1" stroke="#fbb400" stroke-width="1.6"/><circle cx="450.9" cy="55.9" r="3.55" fill="none" stroke="#fbb400" stroke-width="1.8"/><text x="476.8" y="42.9" font-size="13.3" stroke="#222" stroke-width="0.32">Propose</text><text x="476.8" y="61.7" font-size="13.3" stroke="#222" stroke-width="0.32">MUSIC</text>
</svg></body></html>
